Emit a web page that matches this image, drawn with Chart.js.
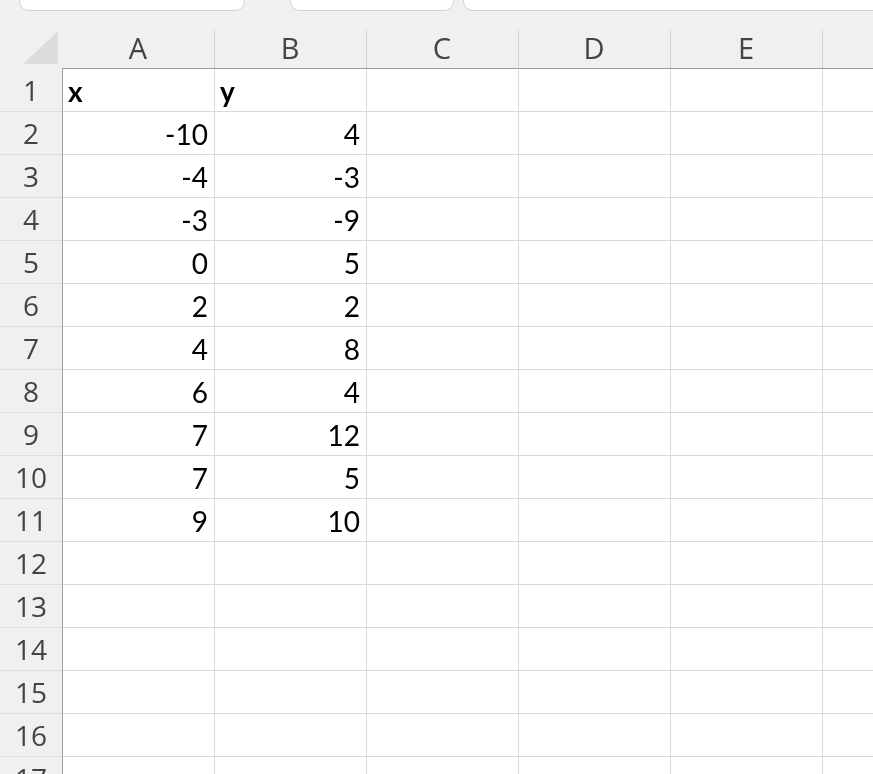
<!DOCTYPE html>
<html>
<head>
<meta charset="utf-8">
<title>Sheet</title>
<script src="https://cdn.jsdelivr.net/npm/chart.js@4.4.1/dist/chart.umd.min.js"></script>
<style>
    html, body { margin: 0; padding: 0; background: #f0f0f0; overflow: hidden; }
    #wrap { position: relative; width: 873px; height: 774px; overflow: hidden; }
    #sheet { position: absolute; left: 0; top: 0; }
    .box {
        position: absolute; top: -20px; height: 29px;
        background: #fff; border: 1px solid #d2d2d2; border-radius: 10px;
    }
</style>
</head>
<body>
<div id="wrap">
    <canvas id="sheet" width="974" height="799"></canvas>
    <div class="box" style="left:19px; width:224px;"></div>
    <div class="box" style="left:290px; width:162px;"></div>
    <div class="box" style="left:463px; width:460px;"></div>
</div>
<script>
// sheet contents
var columns = ['A', 'B', 'C', 'D', 'E', 'F'];
var rows = ['1', '2', '3', '4', '5', '6', '7', '8', '9', '10', '11', '12', '13', '14', '15', '16', '17'];
var headers = ['x', 'y'];
var xValues = [-10, -4, -3, 0, 2, 4, 6, 7, 7, 9];
var yValues = [4, -3, -9, 5, 2, 8, 4, 12, 5, 10];

var gridColor = '#dadada';
var borderColor = '#9e9e9e';
var labelColor = '#444444';

function cellPoints(col, values, firstRow) {
    return values.map(function(v, i) {
        return { x: col, y: rows[firstRow + i] };
    });
}

// paints header background, white cell area and corner triangle
var sheetBackground = {
    id: 'sheetBackground',
    beforeDraw: function(chart) {
        var ctx = chart.ctx;
        var area = chart.chartArea;
        ctx.save();
        ctx.fillStyle = '#f0f0f0';
        ctx.fillRect(0, 0, chart.width, chart.height);
        ctx.fillStyle = '#ffffff';
        ctx.fillRect(area.left, area.top, area.right - area.left, area.bottom - area.top);
        ctx.fillStyle = '#dcdcdc';
        ctx.beginPath();
        ctx.moveTo(area.left - 4, area.top - 37);
        ctx.lineTo(area.left - 4, area.top - 4);
        ctx.lineTo(area.left - 39, area.top - 4);
        ctx.closePath();
        ctx.fill();
        ctx.restore();
    }
};

// writes the cell texts at the points placed by the scales
var cellText = {
    id: 'cellText',
    afterDatasetsDraw: function(chart) {
        var ctx = chart.ctx;
        var xs = chart.scales.x;
        var half = (xs.getPixelForValue(1) - xs.getPixelForValue(0)) / 2;
        var ys = chart.scales.y;
        var rowHalf = (ys.getPixelForValue(1) - ys.getPixelForValue(0)) / 2;
        ctx.save();
        ctx.fillStyle = '#000000';
        ctx.textBaseline = 'alphabetic';
        chart.data.datasets.forEach(function(ds, di) {
            var meta = chart.getDatasetMeta(di);
            ctx.font = (ds.bold ? 'bold ' : '') + '28px Lato';
            meta.data.forEach(function(pt, i) {
                var text = String(ds.texts[i]);
                var y = pt.y + rowHalf - 9;
                if (ds.align === 'left') {
                    ctx.textAlign = 'left';
                    ctx.fillText(text, pt.x - half + 6, y);
                } else {
                    ctx.textAlign = 'right';
                    ctx.fillText(text, pt.x + half - 6, y);
                }
            });
        });
        ctx.restore();
    }
};

new Chart(document.getElementById('sheet'), {
    type: 'scatter',
    data: {
        datasets: [
            { data: cellPoints('A', [headers[0]], 0).concat(cellPoints('B', [headers[1]], 0)), texts: headers, bold: true, align: 'left' },
            { data: cellPoints('A', xValues, 1), texts: xValues, align: 'right' },
            { data: cellPoints('B', yValues, 1), texts: yValues, align: 'right' }
        ]
    },
    options: {
        responsive: false,
        animation: false,
        events: [],
        layout: { padding: { top: 30, left: 0, right: 0, bottom: 0 } },
        elements: { point: { radius: 0 } },
        plugins: {
            legend: { display: false },
            tooltip: { enabled: false }
        },
        scales: {
            x: {
                type: 'category',
                labels: columns,
                position: 'top',
                offset: true,
                afterFit: function(scale) { scale.height = 38; },
                grid: {
                    offset: true,
                    color: gridColor,
                    tickLength: 38,
                    tickColor: function(c) { return c.index === 0 ? 'rgba(0,0,0,0)' : '#d6d6d6'; }
                },
                border: { color: borderColor, width: 1 },
                ticks: {
                    autoSkip: false,
                    maxRotation: 0,
                    padding: -38,
                    color: labelColor,
                    font: { family: 'Open Sans', size: 29 }
                }
            },
            y: {
                type: 'category',
                labels: rows,
                position: 'left',
                offset: true,
                afterFit: function(scale) { scale.width = 62; },
                grid: {
                    offset: true,
                    color: gridColor,
                    tickLength: 62,
                    tickColor: function(c) { return c.index === 0 ? 'rgba(0,0,0,0)' : '#dedede'; }
                },
                border: { color: borderColor, width: 1 },
                ticks: {
                    autoSkip: false,
                    crossAlign: 'center',
                    padding: -47,
                    color: labelColor,
                    // empty first line nudges the row number a little below the band centre
                    callback: function(value) { return ['', this.getLabelForValue(value)]; },
                    font: { family: 'Open Sans', size: 28, lineHeight: 0.22 }
                }
            }
        }
    },
    plugins: [sheetBackground, cellText]
});
</script>
</body>
</html>
